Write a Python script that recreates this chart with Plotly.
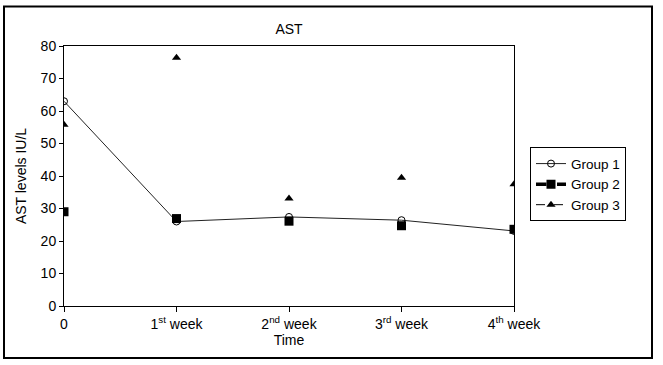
import plotly.graph_objects as go

categories = ["0", "1<sup>st</sup> week", "2<sup>nd</sup> week", "3<sup>rd</sup> week", "4<sup>th</sup> week"]
group1 = [63, 26, 27.4, 26.4, 23.1]
group2 = [29, 26.9, 26.1, 24.7, 23.6]
group3 = [55.8, 76.4, 33.1, 39.5, 37.5]
y_ticks = [0, 10, 20, 30, 40, 50, 60, 70, 80]

FONT = "Liberation Sans, Arial, sans-serif"

fig = go.Figure()

fig.add_trace(go.Scatter(
    x=categories, y=group1, name="Group 1", mode="lines+markers",
    line=dict(color="#222222", width=1),
    marker=dict(symbol="circle-open", size=7, color="black", line=dict(width=1)),
))
fig.add_trace(go.Scatter(
    x=categories, y=group2, name="Group 2", mode="markers", showlegend=False,
    marker=dict(symbol="square", size=9, color="black"),
))
fig.add_trace(go.Scatter(
    x=categories, y=group3, name="Group 3", mode="markers", showlegend=False,
    marker=dict(symbol="triangle-up", size=8, color="black"),
))
# legend entries
fig.add_trace(go.Scatter(
    x=[None], y=[None], name="Group 2", mode="lines+markers",
    line=dict(color="black", width=3.5, dash="dash"),
    marker=dict(symbol="square", size=9, color="black"),
))
fig.add_trace(go.Scatter(
    x=[None], y=[None], name="Group 3", mode="lines+markers",
    line=dict(color="black", width=1, dash="dash"),
    marker=dict(symbol="triangle-up", size=8, color="black"),
))

fig.update_layout(
    width=663, height=365,
    margin=dict(l=64, r=149, t=45.5, b=59),
    paper_bgcolor="white", plot_bgcolor="white",
    font=dict(family=FONT, size=14, color="black"),
    title=dict(text="AST", x=(64 + 514) / 2 / 663, xanchor="center", y=1 - 29 / 365, yanchor="middle",
               font=dict(size=14)),
    showlegend=True,
    legend=dict(
        x=(530 - 64) / 450, xanchor="left", y=(306 - 147) / 260.5, yanchor="top",
        bordercolor="black", borderwidth=1, bgcolor="white",
        font=dict(size=13.5), tracegroupgap=0,
    ),
    shapes=[dict(type="rect", xref="paper", yref="paper",
                 x0=(4 - 64) / 450, x1=(652 - 64) / 450,
                 y0=(306 - 358) / 260.5, y1=(306 - 6) / 260.5,
                 line=dict(color="black", width=2), fillcolor="rgba(0,0,0,0)", layer="below")],
)

fig.update_xaxes(
    type="category", range=[0, len(categories) - 1],
    showline=True, linecolor="black", linewidth=1, mirror=True,
    ticks="outside", ticklen=5, tickcolor="black", showgrid=False, zeroline=False,
    title=dict(text="Time", standoff=2, font=dict(size=14)),
)
fig.update_yaxes(
    range=[0, 80], tickvals=y_ticks,
    showline=True, linecolor="black", linewidth=1, mirror=True,
    ticks="outside", ticklen=4, tickcolor="black", showgrid=False, zeroline=False,
    title=dict(text="AST levels IU/L", standoff=10, font=dict(size=14)),
)

fig.write_html("out.html", config={"displayModeBar": False},
               post_script="document.body.style.margin='0';")
